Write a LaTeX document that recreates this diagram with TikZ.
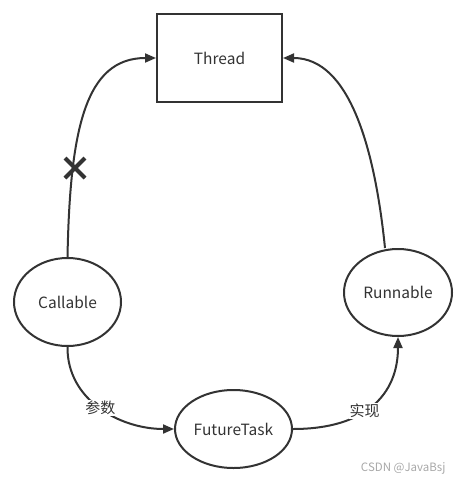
\documentclass[tikz,border=0pt]{standalone}
\usepackage{fontspec}
\setmainfont{Noto Sans CJK SC}
\usetikzlibrary{arrows.meta,shapes.geometric}
\definecolor{ink}{HTML}{333333}
\definecolor{wm}{HTML}{A8A8A8}
\begin{document}
\begin{tikzpicture}[x=1pt,y=-1pt,
  every node/.style={text=ink,font=\fontsize{15.5}{18}\selectfont},
  box/.style={draw=ink,line width=2pt,minimum width=125pt,minimum height=88pt,inner sep=0pt},
  oval/.style={draw=ink,line width=2pt,ellipse,inner sep=0pt},
  conn/.style={draw=ink,line width=2pt,-{Triangle[length=11pt,width=9pt]}},
  lbl/.style={fill=white,inner sep=1pt,font=\fontsize{15}{17}\selectfont}]
\useasboundingbox (0,0) rectangle (462,485);
\node[box] (thread) at (219.5,58) {Thread};
\node[oval,minimum width=107pt,minimum height=88pt] (callable) at (67.5,302) {Callable};
\node[oval,minimum width=108pt,minimum height=87pt] (runnable) at (398,292.5) {Runnable};
\node[oval,minimum width=117pt,minimum height=78pt] (future) at (233.5,429) {FutureTask};
\draw[conn] (callable.north) .. controls (70,130) and (85,58) .. (thread.west);
\draw[conn] (runnable.north -| 385,0) .. controls (375,150) and (350,58) .. (thread.east);
\draw[conn] (callable.south) .. controls (67,400) and (120,429) .. (future.west)
  node[lbl,pos=0.5] (p1) {参数};
\draw[conn] (future.east) .. controls (365,429) and (398,395) .. (runnable.south)
  node[lbl,pos=0.43] (p2) {实现};
\coordinate (xm) at (75,168);
\draw[ink,line width=4pt] ([shift={(-10,-10)}]xm) -- ([shift={(10,10)}]xm);
\draw[ink,line width=4pt] ([shift={(-10,10)}]xm) -- ([shift={(10,-10)}]xm);
\node[text=wm,font=\fontsize{11.5}{13}\selectfont,anchor=east] (wmk) at (449,468) {CSDN @JavaBsj};
\end{tikzpicture}
\end{document}
